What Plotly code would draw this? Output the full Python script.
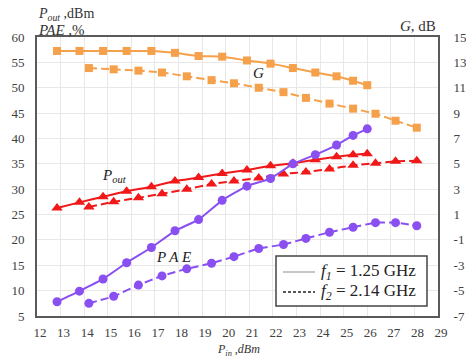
import plotly.graph_objects as go

# ---- data ----
pin_f1 = [12.85, 13.8, 14.8, 15.8, 16.85, 17.85, 18.85, 19.85, 20.9, 21.9, 22.85, 23.8, 24.7, 25.4, 26.0]
pin_f2 = [14.2, 15.25, 16.3, 17.3, 18.35, 19.4, 20.35, 21.4, 22.45, 23.4, 24.4, 25.4, 26.35, 27.2, 28.1]

gain_f1 = [13.9, 13.9, 13.9, 13.9, 13.9, 13.75, 13.5, 13.45, 13.15, 12.9, 12.55, 12.2, 11.9, 11.55, 11.2]
gain_f2 = [12.55, 12.45, 12.35, 12.2, 11.9, 11.6, 11.35, 11.0, 10.65, 10.2, 9.75, 9.35, 8.95, 8.4, 7.85]

pout_f1 = [26.3, 27.4, 28.5, 29.6, 30.5, 31.6, 32.3, 33.1, 33.8, 34.6, 35.1, 35.8, 36.4, 36.8, 37.0]
pout_f2 = [26.5, 27.5, 28.3, 29.1, 30.0, 31.0, 31.6, 32.2, 33.0, 33.4, 34.0, 34.7, 35.1, 35.5, 35.6]

pae_f1 = [7.8, 9.9, 12.3, 15.5, 18.5, 21.8, 24.0, 27.8, 30.6, 32.1, 35.0, 36.8, 38.7, 40.6, 41.9]
pae_f2 = [7.5, 8.9, 11.1, 12.9, 14.3, 15.4, 16.7, 18.3, 19.1, 20.3, 21.5, 22.5, 23.4, 23.4, 22.8]

x_ticks = list(range(12, 30))
left_ticks = list(range(5, 61, 5))
right_ticks = list(range(-7, 16, 2))
right_tick_text = [str(v) for v in right_ticks]

legend_labels = ["<i>f</i><sub><i>1</i></sub> = 1.25 GHz", "<i>f</i><sub><i>2</i></sub> = 2.14 GHz"]

ORANGE = "#F5A04B"
RED = "#F01818"
PURPLE = "#8A4FF0"
SERIF = "Liberation Serif"
DASH = "8px,4px"

# page body has an 8px margin; lay out in reference pixels and shift
OFF = 8
W, H = 474 - OFF, 359 - OFF
PL, PR, PT, PB = 37, 438, 37, 316  # plot area in reference pixels


def fx(x):
    return (x - PL) / (PR - PL)


def fy(y):
    return (PB - y) / (PB - PT)


fig = go.Figure()


def add(x, y, color, symbol, dash, yaxis="y", size=9):
    fig.add_trace(go.Scatter(
        x=x, y=y, mode="lines+markers", yaxis=yaxis, showlegend=False,
        line=dict(color=color, width=2, dash=dash, shape="spline", smoothing=0.4),
        marker=dict(color=color, symbol=symbol, size=size),
    ))


add(pin_f1, gain_f1, ORANGE, "square", "solid", "y2", 8)
add(pin_f2, gain_f2, ORANGE, "square", DASH, "y2", 8)
add(pin_f1, pout_f1, RED, "triangle-up", "solid", "y", 10)
add(pin_f2, pout_f2, RED, "triangle-up", DASH, "y", 10)
add(pin_f1, pae_f1, PURPLE, "circle", "solid", "y", 9)
add(pin_f2, pae_f2, PURPLE, "circle", DASH, "y", 9)

axis_common = dict(showline=True, linecolor="#5a5a5a", linewidth=2, automargin=False,
                   ticks="", tickfont=dict(family=SERIF, size=13, color="#404040"),
                   zeroline=False)

fig.update_layout(
    template="none",
    width=W, height=H,
    margin=dict(l=PL - OFF, r=W - (PR - OFF), t=PT - OFF, b=H - (PB - OFF), autoexpand=False),
    paper_bgcolor="white", plot_bgcolor="white",
    showlegend=False,
    xaxis=dict(range=[12, 29], tickvals=x_ticks, showgrid=True, gridcolor="#e8e8e8",
               gridwidth=1, mirror=True, ticklabelstandoff=3, ticklabelshift=3, **axis_common),
    yaxis=dict(range=[5, 60], tickvals=left_ticks, showgrid=True, gridcolor="#e8e8e8",
               gridwidth=1, mirror=True, ticklabelstandoff=8, **axis_common),
    yaxis2=dict(range=[-7, 15], tickvals=right_ticks, ticktext=right_tick_text,
                overlaying="y", side="right", showgrid=False, ticklabelstandoff=11,
                **axis_common),
)

# in-plot labels
ann_font = dict(family=SERIF, size=15, color="#222222")
fig.add_annotation(x=21.4, y=53, xref="x", yref="y", text="<i>G</i>", showarrow=False, font=ann_font)
fig.add_annotation(x=15.3, y=32.6, xref="x", yref="y", text="<i>P</i><sub><i>out</i></sub>",
                   showarrow=False, font=ann_font)
fig.add_annotation(x=17.8, y=16.6, xref="x", yref="y", text="<i>P A E</i>", showarrow=False, font=ann_font)

# axis titles
for (x, y, text, anchor, yanchor, size) in [
    (36, 15, "<i>P</i><sub><i>out</i></sub> ,dBm", "left", "middle", 14),
    (36, 30, "<i>PAE</i> ,%", "left", "middle", 15),
    (438, 26, "<i>G</i>, dB", "right", "middle", 15),
    (238, 350, "<i>P</i><sub><i>in</i></sub> ,<i>dBm</i>", "center", "middle", 12),
]:
    fig.add_annotation(x=fx(x), y=fy(y), xref="paper", yref="paper", text=text, showarrow=False,
                       xanchor=anchor, yanchor=yanchor,
                       font=dict(family=SERIF, size=size, color="#333333"))

# legend box (drawn manually)
fig.add_shape(type="rect", xref="paper", yref="paper", layer="above",
              x0=fx(276), x1=fx(427), y0=fy(306), y1=fy(256),
              fillcolor="white", line=dict(color="#444444", width=1.5))
fig.add_shape(type="line", xref="paper", yref="paper", layer="above",
              x0=fx(283), x1=fx(315), y0=fy(272), y1=fy(272),
              line=dict(color="#b5b5b5", width=1.5))
fig.add_shape(type="line", xref="paper", yref="paper", layer="above",
              x0=fx(283), x1=fx(315), y0=fy(292), y1=fy(292),
              line=dict(color="#222222", width=1.5, dash="3px,2px"))
for label, yy in zip(legend_labels, [272, 292]):
    fig.add_annotation(x=fx(319), y=fy(yy), xref="paper", yref="paper", text=label,
                       showarrow=False, xanchor="left", yanchor="middle",
                       font=dict(family=SERIF, size=17, color="#222222"))

fig.write_html("out.html")
